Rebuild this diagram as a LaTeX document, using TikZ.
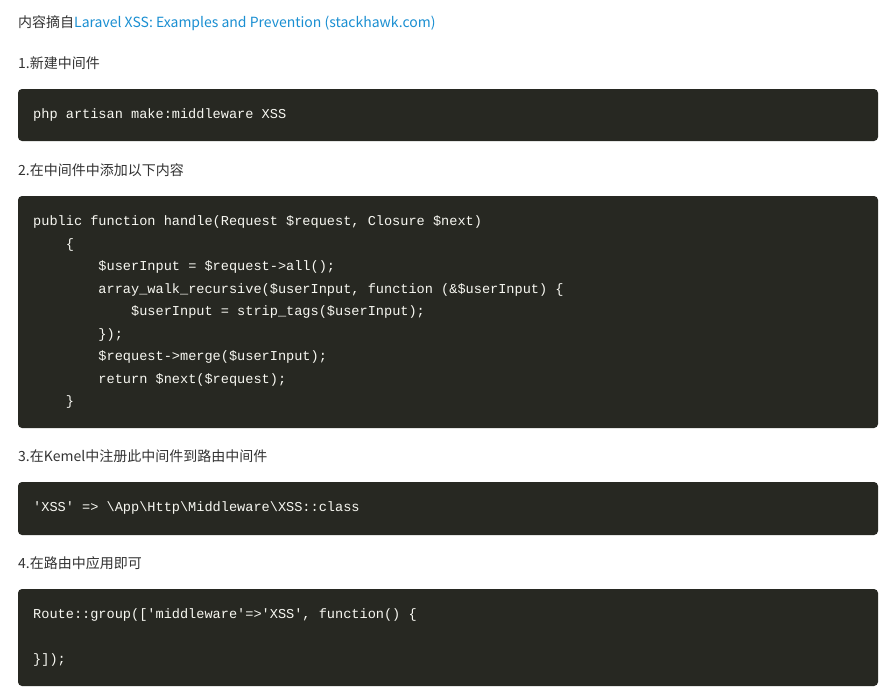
\documentclass[tikz,border=0pt]{standalone}
\usepackage{fontspec}
\setmainfont{Noto Sans CJK SC}
\setmonofont{Liberation Mono}
\definecolor{codebg}{HTML}{272822}
\definecolor{codefg}{HTML}{F8F8F2}
\definecolor{txt}{HTML}{333333}
\definecolor{lnk}{HTML}{1A8FD2}
\tikzset{
 codebox/.style={fill=codebg,rounded corners=4pt,draw=none},
 code/.style={anchor=west,inner sep=0pt,text=codefg,font=\fontsize{13.6}{16}\ttfamily},
 para/.style={anchor=west,inner sep=0pt,text=txt,font=\fontsize{14}{17}\selectfont}
}
\begin{document}
\begin{tikzpicture}[x=1pt,y=-1pt]
\useasboundingbox[fill=white] (0,0) rectangle (891,696);
\node[para] (src) at (18,23) {内容摘自\textcolor{lnk}{Laravel XSS: Examples and Prevention (stackhawk.com)}};
\node[para] (h1) at (18,63) {1.新建中间件};
\fill[codebox] (18,89) rectangle (878,141);
\node[code] (c1) at (33,115) {php artisan make:middleware XSS};
\node[para] (h2) at (18,170) {2.在中间件中添加以下内容};
\fill[codebox] (18,196) rectangle (878,428);
\node[code] (c2a) at (33,222) {public function handle(Request \$request, Closure \$next)};
\node[code] (c2b) at (33,244.5) {\ \ \ \ \{};
\node[code] (c2c) at (33,267) {\ \ \ \ \ \ \ \ \$userInput = \$request->all();};
\node[code] (c2d) at (33,289.5) {\ \ \ \ \ \ \ \ array\_walk\_recursive(\$userInput, function (\&\$userInput) \{};
\node[code] (c2e) at (33,312) {\ \ \ \ \ \ \ \ \ \ \ \ \$userInput = strip\_tags(\$userInput);};
\node[code] (c2f) at (33,334.5) {\ \ \ \ \ \ \ \ \});};
\node[code] (c2g) at (33,357) {\ \ \ \ \ \ \ \ \$request->merge(\$userInput);};
\node[code] (c2h) at (33,379.5) {\ \ \ \ \ \ \ \ return \$next(\$request);};
\node[code] (c2i) at (33,402) {\ \ \ \ \}};
\node[para] (h3) at (18,456) {3.在Kemel中注册此中间件到路由中间件};
\fill[codebox] (18,482) rectangle (878,535);
\node[code] (c3) at (33,508) {'XSS' => \textbackslash App\textbackslash Http\textbackslash Middleware\textbackslash XSS::class};
\node[para] (h4) at (18,563) {4.在路由中应用即可};
\fill[codebox] (18,589) rectangle (878,686);
\node[code] (c4a) at (33,615) {Route::group(['middleware'=>'XSS', function() \{};
\node[code] (c4b) at (33,660) {\}]);};
\end{tikzpicture}
\end{document}
